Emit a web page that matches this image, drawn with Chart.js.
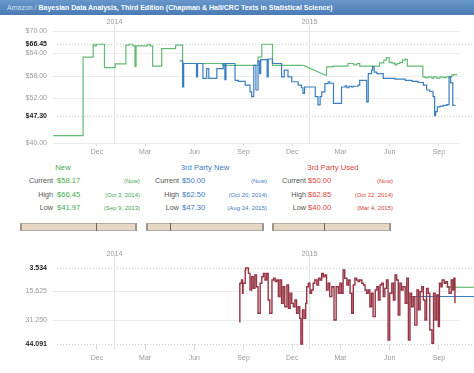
<!DOCTYPE html>
<html>
<head>
<meta charset="utf-8">
<script src="https://cdn.jsdelivr.net/npm/chart.js@4.4.0/dist/chart.umd.min.js"></script>
<style>
  body { margin:0; width:474px; height:373px; background:#fff; position:relative; overflow:hidden;
         font-family:'Liberation Sans', Arial, sans-serif; }
  .bar { position:absolute; left:0; top:0; width:474px; height:15px; box-sizing:border-box; padding-left:7px;
         background:linear-gradient(#6797cb, #4a7bb3); color:#fff; font-size:7px; line-height:15px; white-space:nowrap; }
  .bar .src { color:#d3e1f1; }
  .bar b { font-weight:bold; }
  #priceWrap { position:absolute; left:0; top:16px; }
  #rankWrap  { position:absolute; left:0; top:245px; }
  .t { position:absolute; white-space:nowrap; line-height:10px; }
  .hd  { font-size:7.7px; transform:translateX(-50%); }
  .lb  { font-size:7.2px; color:#555; text-align:right; }
  .val { font-size:7.6px; }
  .dt  { font-size:6px; text-align:right; }
  .g { color:#3fa94f; } .b { color:#3b7cc2; } .r { color:#d6453d; }
  .slider { position:absolute; top:223px; height:6px; background:#e6d6c4; border:1px solid #b3aba2;
            border-left:2px solid #9a958f; border-right:2px solid #9a958f; }
  .thumb { position:absolute; top:-1px; width:1px; height:8px; background:#6c6660; }
</style>
</head>
<body>
<div class="bar"><span class="src">Amazon / </span><b>Bayesian Data Analysis, Third Edition (Chapman &amp; Hall/CRC Texts in Statistical Science)</b></div>

<div id="priceWrap"><canvas id="priceChart" width="474" height="146"></canvas></div>

<!-- summary -->
<div class="t hd g" style="left:63px;top:163px">New</div>
<div class="t hd b" style="left:205px;top:163px">3rd Party New</div>
<div class="t hd r" style="left:333px;top:163px">3rd Party Used</div>

<div class="t lb" style="right:421px;top:176px">Current</div>
<div class="t lb" style="right:421px;top:190px">High</div>
<div class="t lb" style="right:421px;top:203px">Low</div>
<div class="t val g" style="left:57px;top:176px">$58.17</div>
<div class="t val g" style="left:57px;top:190px">$66.45</div>
<div class="t val g" style="left:57px;top:203px">$41.97</div>
<div class="t dt g" style="right:334px;top:176px">(Now)</div>
<div class="t dt g" style="right:334px;top:190px">(Oct 3, 2014)</div>
<div class="t dt g" style="right:334px;top:203px">(Sep 9, 2013)</div>

<div class="t lb" style="right:295px;top:176px">Current</div>
<div class="t lb" style="right:295px;top:190px">High</div>
<div class="t lb" style="right:295px;top:203px">Low</div>
<div class="t val b" style="left:182px;top:176px">$50.00</div>
<div class="t val b" style="left:182px;top:190px">$62.50</div>
<div class="t val b" style="left:182px;top:203px">$47.30</div>
<div class="t dt b" style="right:207px;top:176px">(Now)</div>
<div class="t dt b" style="right:207px;top:190px">(Oct 20, 2014)</div>
<div class="t dt b" style="right:207px;top:203px">(Aug 24, 2015)</div>

<div class="t lb" style="right:168px;top:176px">Current</div>
<div class="t lb" style="right:168px;top:190px">High</div>
<div class="t lb" style="right:168px;top:203px">Low</div>
<div class="t val r" style="left:308px;top:176px">$50.00</div>
<div class="t val r" style="left:308px;top:190px">$62.85</div>
<div class="t val r" style="left:308px;top:203px">$40.00</div>
<div class="t dt r" style="right:81px;top:176px">(Now)</div>
<div class="t dt r" style="right:81px;top:190px">(Oct 22, 2014)</div>
<div class="t dt r" style="right:81px;top:203px">(Mar 4, 2015)</div>

<div class="slider" style="left:20px;width:113px"><div class="thumb" style="left:74px"></div></div>
<div class="slider" style="left:146px;width:114px"><div class="thumb" style="left:22px"></div></div>
<div class="slider" style="left:272px;width:115px"><div class="thumb" style="left:50px"></div></div>

<div id="rankWrap"><canvas id="rankChart" width="474" height="128"></canvas></div>

<script>
// all x values are days counted from 2013-09-01
const X_MIN = 8.8;
const X_MAX = 795.6;
const FONT = "'Liberation Sans', Arial, sans-serif";

const monthTicks  = [91, 181, 273, 365, 456, 546, 638, 730];
const monthLabels = ['Dec', 'Mar', 'Jun', 'Sep', 'Dec', 'Mar', 'Jun', 'Sep'];
const yearStarts  = [122, 487];
const yearLabels  = ['2014', '2015'];

const priceTicks = [40, 47.30, 52, 58, 64, 66.45, 70];
const priceMarked = [47.30, 66.45];
const rankTicks = [3534, 15625, 31250, 44091];
const rankMarked = [3534, 44091];

// New (Amazon) price, step series; null = gap bridged by the slope below
const newDays = [9, 65, 84, 87, 90, 105, 125, 145, 151, 158,
  162, 164, 185, 190, 195, 212, 238, 251, 326, 392,
  399, 419, 477, 478, 517, 520, 532, 560, 571, 577,
  582, 619, 627, 632, 637, 642, 648, 652, 657, 662,
  667, 671, 700, 704, 710, 717, 721, 726, 732, 738,
  743, 749, 754, 757, 763];
const newPrices = [41.97, 63.0, 66.45, 66.0, 66.45, 60.2, 61.2, 66.2, 66.45, 66.0,
  60.5, 66.0, 66.45, 66.0, 60.6, 65.3, 66.2, 61.3, 60.8, 63.0,
  66.45, 60.8, 60.8, null, 58.2, 60.4, 60.6, 61.3, 60.9, 61.3,
  60.6, 61.45, 62.2, 62.9, 61.6, 61.4, 60.9, 61.3, 61.6, 62.2,
  62.4, 60.6, 57.7, 57.5, 57.7, 57.4, 57.7, 57.4, 57.7, 57.5,
  57.7, 57.7, 58.17, 58.3, 58.17];
const newSlopeDays = [477, 517];
const newSlopePrices = [60.8, 58.2];

// 3rd party new price
const tpnDays = [246, 251, 253, 277, 279, 289, 296, 300, 315, 327,
  330, 332, 349, 355, 368, 377, 380, 384, 388, 392,
  395, 397, 409, 411, 419, 436, 441, 448, 455, 467,
  473, 476, 479, 499, 504, 508, 511, 517, 523, 526,
  533, 548, 555, 558, 562, 567, 570, 579, 582, 595,
  598, 604, 606, 609, 614, 626, 648, 667, 680, 691,
  701, 707, 713, 719, 722, 724, 727, 732, 738, 745,
  749, 752, 756, 760];
const tpnPrices = [62.0, 55.0, 61.3, 57.7, 61.3, 57.3, 59.9, 57.3, 59.9, 61.3,
  57.0, 61.3, 56.8, 56.5, 55.5, 53.7, 52.4, 60.8, 54.2, 62.0,
  58.6, 62.35, 57.7, 62.5, 61.3, 57.7, 59.5, 57.7, 56.4, 55.5,
  54.8, 53.3, 55.0, 52.4, 50.2, 52.4, 53.7, 55.9, 56.4, 56.0,
  50.6, 55.0, 55.3, 54.8, 55.2, 55.0, 55.2, 55.5, 56.8, 51.0,
  58.6, 59.5, 60.4, 59.0, 58.6, 57.3, 57.1, 56.8, 56.5, 56.2,
  55.5, 54.2, 53.8, 52.4, 47.3, 48.4, 49.7, 49.9, 50.1, 50.3,
  57.7, 56.1, 50.1, 50.0];

// sales rank
const rankDays = [357, 358, 361, 363, 364, 368, 369, 374, 377, 380,
  383, 386, 389, 392, 396, 399, 402, 405, 408, 411,
  414, 418, 421, 424, 427, 430, 433, 436, 439, 442,
  446, 449, 452, 455, 458, 461, 464, 467, 470, 472,
  475, 478, 481, 483, 486, 489, 492, 495, 498, 502,
  505, 508, 511, 514, 517, 520, 523, 526, 530, 534,
  538, 542, 545, 548, 551, 554, 558, 561, 564, 567,
  570, 573, 576, 579, 582, 586, 589, 592, 595, 598,
  601, 604, 607, 611, 614, 617, 620, 623, 626, 629,
  632, 635, 638, 642, 645, 648, 651, 654, 657, 660,
  663, 667, 670, 673, 676, 679, 682, 685, 689, 692,
  695, 698, 701, 704, 707, 710, 713, 717, 720, 723,
  726, 729, 731, 734, 736, 740, 743, 746, 749, 753,
  756, 758, 760];
const rankValues = [32200, 11700, 9900, 17000, 11700, 4600, 3534, 6400, 15300, 8200,
  14400, 7300, 13500, 27700, 11700, 8200, 6400, 9900, 6400, 20600,
  27700, 9900, 9000, 10800, 9900, 18800, 9900, 22400, 13500, 24200,
  12600, 25100, 17000, 22400, 24200, 20600, 27700, 24200, 30400, 44091,
  25900, 30400, 22400, 13500, 11700, 17000, 15300, 11700, 9900, 12600,
  9000, 9900, 6400, 8200, 7300, 15300, 11700, 18800, 13500, 31300,
  13500, 17000, 11700, 17000, 4600, 9000, 12600, 9900, 17000, 27700,
  12600, 9000, 9900, 10800, 9900, 11700, 12600, 15300, 17000, 15300,
  24200, 17000, 29500, 15300, 13500, 20600, 12600, 11700, 18800, 14400,
  9900, 42000, 17000, 11700, 20600, 7300, 9900, 28600, 11700, 15300,
  13500, 22400, 9000, 42000, 17000, 24200, 18800, 34000, 15300, 25900,
  16200, 13500, 20600, 31300, 14400, 17000, 36600, 43700, 17000, 31300,
  17900, 34800, 11700, 13500, 9900, 11700, 10800, 13500, 17000, 9900,
  15300, 9000, 22400];

// offer lines at the right of the rank panel
const rankNewLineDays = [744, 796];
const rankNewLine = [13830, 13830];
const rankTpnLineDays = [676, 796];
const rankTpnLine = [18740, 18740];

const pts = (xs, ys) => xs.map((x, i) => ({ x, y: ys[i] }));
const dotSep = v => String(v).replace(/\B(?=(\d{3})+(?!\d))/g, '.');
const isMarked = (list, c) => !!(c && c.tick && list.includes(c.tick.value));

// year markers + horizontal guide lines
const guides = {
  id: 'guides',
  beforeDatasetsDraw(chart, args, o) {
    const { ctx, chartArea: a, scales: { x, y } } = chart;
    ctx.save();
    ctx.lineWidth = 1;
    const solidRight = x.getPixelForValue(o.solidEnd);
    o.solid.forEach(v => {
      const py = Math.round(y.getPixelForValue(v)) + 0.5;
      ctx.strokeStyle = '#ececec';
      ctx.setLineDash([]);
      ctx.beginPath(); ctx.moveTo(a.left, py); ctx.lineTo(solidRight, py); ctx.stroke();
    });
    o.dotted.forEach(v => {
      const py = Math.round(y.getPixelForValue(v)) + 0.5;
      ctx.strokeStyle = '#cfcfcf';
      ctx.setLineDash([1, 2]);
      ctx.beginPath(); ctx.moveTo(a.left + 4, py); ctx.lineTo(a.right, py); ctx.stroke();
    });
    ctx.setLineDash([]);
    yearStarts.forEach((d, i) => {
      const px = Math.round(x.getPixelForValue(d)) + 0.5;
      ctx.strokeStyle = '#e2e2e2';
      ctx.beginPath(); ctx.moveTo(px, a.top - o.lineUp); ctx.lineTo(px, a.bottom + o.lineDown); ctx.stroke();
      ctx.fillStyle = '#999';
      ctx.font = '7.2px ' + FONT;
      ctx.textAlign = 'center';
      ctx.textBaseline = 'middle';
      ctx.fillText(yearLabels[i], px, a.top - o.labelGap);
    });
    ctx.restore();
  },
};

function xAxis(height, tickLen, pad) {
  return {
    type: 'linear', min: X_MIN, max: X_MAX,
    afterBuildTicks: s => { s.ticks = monthTicks.map(v => ({ value: v })); },
    afterFit: s => { s.height = height; },
    ticks: {
      autoSkip: false, maxRotation: 0, padding: pad, color: '#9a9a9a',
      font: { family: FONT, size: 7 },
      callback: (v, i) => monthLabels[i],
    },
    grid: { drawOnChartArea: false, drawTicks: true, tickLength: tickLen, tickColor: '#dcdcdc' },
    border: { display: false },
  };
}

function yAxis(ticks, marked, fmtLabel, extra) {
  return {
    type: 'linear',
    ...extra,
    afterBuildTicks: s => { s.ticks = ticks.map(v => ({ value: v })); },
    afterFit: s => { s.width = 53; },
    ticks: {
      padding: 6,
      color: c => isMarked(marked, c) ? '#222' : '#9a9a9a',
      font: c => ({ family: FONT, size: 7, weight: isMarked(marked, c) ? 'bold' : 'normal' }),
      callback: fmtLabel,
    },
    grid: { display: false, drawTicks: false },
    border: { display: false },
  };
}

const baseLine = { stepped: true, pointRadius: 0, borderWidth: 1.2, fill: false, spanGaps: false, clip: 3 };

new Chart(document.getElementById('priceChart'), {
  type: 'line',
  data: {
    datasets: [
      { ...baseLine, data: pts(tpnDays, tpnPrices), borderColor: '#3a7ec1' },
      { ...baseLine, data: pts(newDays, newPrices), borderColor: '#62bb72' },
      { ...baseLine, stepped: false, data: pts(newSlopeDays, newSlopePrices), borderColor: '#62bb72' },
    ],
  },
  options: {
    responsive: false,
    animation: false,
    events: [],
    layout: { padding: { top: 15, left: 0, right: 0, bottom: 0 } },
    plugins: {
      legend: { display: false },
      tooltip: { enabled: false },
      guides: { solid: [40, 52, 58, 64, 70], dotted: priceMarked, solidEnd: 770, lineUp: 6, lineDown: 0, labelGap: 9 },
    },
    scales: {
      x: xAxis(19, 3, 2),
      y: yAxis(priceTicks, priceMarked, v => '$' + Number(v).toFixed(2), { min: 40, max: 70 }),
    },
  },
  plugins: [guides],
});

new Chart(document.getElementById('rankChart'), {
  type: 'line',
  data: {
    datasets: [
      { ...baseLine, data: pts(rankDays, rankValues), borderColor: '#963444', borderWidth: 1.4 },
      { ...baseLine, stepped: false, data: pts(rankNewLineDays, rankNewLine), borderColor: '#62bb72', clip: false },
      { ...baseLine, stepped: false, data: pts(rankTpnLineDays, rankTpnLine), borderColor: '#3a7ec1', clip: false },
    ],
  },
  options: {
    responsive: false,
    animation: false,
    events: [],
    layout: { padding: { top: 23, left: 0, right: 0, bottom: 0 } },
    plugins: {
      legend: { display: false },
      tooltip: { enabled: false },
      guides: { solid: [15625, 31250], dotted: rankMarked, solidEnd: 770, lineUp: 13, lineDown: 6, labelGap: 14 },
    },
    scales: {
      x: xAxis(29, 6, 4),
      y: yAxis(rankTicks, rankMarked, v => dotSep(v), { min: 3534, max: 44091, reverse: true }),
    },
  },
  plugins: [guides],
});
</script>
</body>
</html>
